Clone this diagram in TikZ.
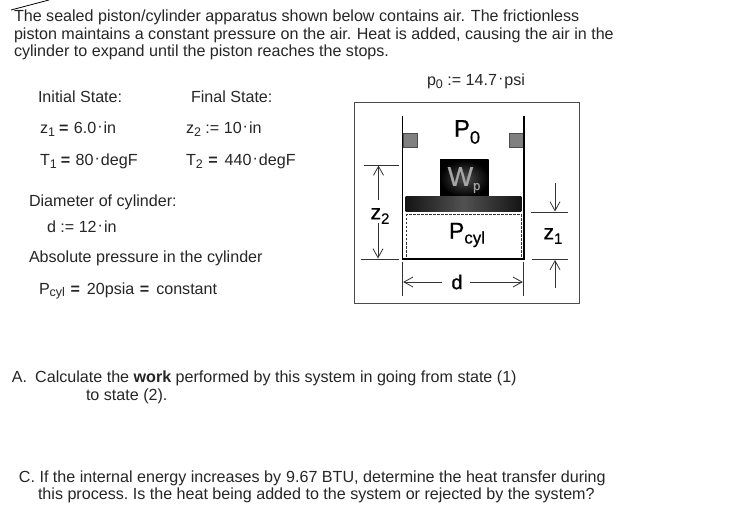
\documentclass[tikz,border=0pt]{standalone}
\usepackage{fontspec}
\setmainfont{Liberation Sans}
\newfontfamily\heavy[FakeBold=0.6]{Liberation Sans}
\usetikzlibrary{arrows.meta}
\tikzset{
  x=1pt,y=-1pt,
  txt/.style={anchor=base west,inner sep=0pt,outer sep=0pt,font=\fontsize{16.1}{19}\selectfont,text=black!85},
  lbl/.style={inner sep=0pt,outer sep=0pt,font=\heavy\fontsize{17}{20}\selectfont},
  big/.style={inner sep=0pt,outer sep=0pt,font=\heavy\fontsize{24}{28}\selectfont},
  wall/.style={draw=black,line width=1.5pt},
  thin/.style={draw=black!80,line width=0.6pt},
  dim/.style={draw=black!80,line width=0.8pt,-{Straight Barb[length=9pt,width=10pt,line width=0.8pt]}},
  stopbox/.style={draw=black!70,line width=0.6pt,fill=black!50},
}
\newcommand{\sbs}[1]{\raisebox{-0.3ex}{\fontsize{12.5}{14}\selectfont #1}}
\newcommand{\ld}{\raisebox{0.35ex}{\kern1pt\textperiodcentered\kern1pt}}
\newcommand{\eqq}{\kern4pt\textbf{=}\kern5.5pt}
\newcommand{\eqw}{\kern5.5pt\textbf{=}\kern7pt}
\begin{document}
\begin{tikzpicture}
\useasboundingbox (0,0) rectangle (737,524);
\fill[white] (0,0) rectangle (737,524);
% corner mark
\coordinate (m1) at (11,10); \coordinate (m2) at (49,0);
\draw[black,line width=0.8pt] (m1) -- (m2);
% text
\node[txt] (t1) at (14,22) {The sealed piston/cylinder apparatus shown below contains air. The frictionless};
\node[txt] (t2) at (14,39.5) {piston maintains a constant pressure on the air.\kern5.5pt Heat is added, causing the air in the};
\node[txt] (t3) at (14,57) {cylinder to expand until the piston reaches the stops.};
\node[txt] (p0) at (427,86) {p\sbs{0} := 14.7\ld psi};
\node[txt] (is) at (38,102.5) {Initial State:};
\node[txt] (fs) at (191,102.5) {Final State:};
\node[txt] (z1v) at (40,134) {z\sbs{1}\eqq 6.0\ld in};
\node[txt] (z2v) at (186,134) {z\sbs{2} := 10\ld in};
\node[txt] (T1v) at (40,166) {T\sbs{1}\eqq 80\ld degF};
\node[txt] (T2v) at (186,166) {T\sbs{2}\eqw 440\ld degF};
\node[txt] (dc) at (29,206.5) {Diameter of cylinder:};
\node[txt] (dv) at (47,233) {d := 12\ld in};
\node[txt] (ap) at (29,262.5) {Absolute pressure in the cylinder};
\node[txt] (pc) at (39,294) {P\sbs{cyl}\eqw 20psia\eqw constant};
\node[txt] (A1) at (12,382) {A.\kern8pt Calculate the \textbf{work} performed by this system in going from state (1)};
\node[txt] (A2) at (86,400) {to state (2).};
\node[txt] (C1) at (19,482) {C.\ If the internal energy increases by\kern5pt 9.67 BTU, determine the heat transfer during};
\node[txt] (C2) at (38,499) {this process.\ Is the heat being added to the system or rejected by the system?};
% frame
\draw[draw=black!70,line width=0.9pt] (354,102) rectangle (579,303);
% stops
\draw[stopbox] (403.5,133) rectangle (417,147);
\draw[stopbox] (509.5,133) rectangle (523,147);
% piston and weight
\shade[inner color=black!70,outer color=black] (440,160) rectangle (488.7,197);
\shade[left color=black!92,right color=black!92,middle color=black!68] (405.7,197) rectangle (521.3,212);
% gas boundary
\draw[black!80,line width=0.6pt,dash pattern=on 2.5pt off 1.5pt] (406.7,214) rectangle (521.3,258);
% cylinder
\coordinate (cTL) at (402.7,116); \coordinate (cBL) at (402.7,259);
\coordinate (cBR) at (524,259); \coordinate (cTR) at (524,116);
\draw[wall] (cTL) -- (cBL) -- (cBR) -- (cTR);
% labels
\node[big] (P0) at (467,132) {P\raisebox{-0.55ex}{\fontsize{18}{20}\selectfont 0}};
\node[big,text=black!35,font=\heavy\fontsize{27}{30}\selectfont] (Wp) at (464,180) {W\raisebox{-0.3ex}{\fontsize{13}{14}\selectfont p}};
\node[lbl,font=\heavy\fontsize{23}{26}\selectfont] (Pc) at (467,235) {P\raisebox{-0.4ex}{\fontsize{17}{20}\selectfont cyl}};
\node[lbl,font=\heavy\fontsize{21}{24}\selectfont] (z2) at (380,216) {z\raisebox{-0.4ex}{\fontsize{15}{16}\selectfont 2}};
\node[lbl,font=\heavy\fontsize{21}{24}\selectfont] (z1) at (553,236) {z\raisebox{-0.4ex}{\fontsize{15}{16}\selectfont 1}};
\node[lbl,font=\heavy\fontsize{20}{22}\selectfont] (d) at (457,282) {d};
% dimension lines
\coordinate (a1) at (364,165); \coordinate (a2) at (399,165);
\coordinate (b1) at (361,259); \coordinate (b2) at (399,259);
\draw[thin] (a1) -- (a2); \draw[thin] (b1) -- (b2);
\coordinate (a3) at (378.5,200); \coordinate (a4) at (378.5,165.5);
\coordinate (b3) at (378,223); \coordinate (b4) at (378,258.5);
\draw[dim] (a3) -- (a4); \draw[dim] (b3) -- (b4);
\coordinate (c1) at (531,212); \coordinate (c2) at (568,212);
\coordinate (e1) at (532,259.5); \coordinate (e2) at (568,259.5);
\draw[thin] (c1) -- (c2); \draw[thin] (e1) -- (e2);
\coordinate (c3) at (555,183); \coordinate (c4) at (555,211.5);
\coordinate (e3) at (555,288); \coordinate (e4) at (555,260);
\draw[dim] (c3) -- (c4); \draw[dim] (e3) -- (e4);
\coordinate (f1) at (402.7,262); \coordinate (f2) at (402.7,296);
\coordinate (g1) at (523.3,262); \coordinate (g2) at (523.3,296);
\draw[thin] (f1) -- (f2); \draw[thin] (g1) -- (g2);
\coordinate (f3) at (441.5,282); \coordinate (f4) at (403.2,282);
\coordinate (g3) at (470,282); \coordinate (g4) at (522.8,282);
\draw[dim] (f3) -- (f4); \draw[dim] (g3) -- (g4);
\end{tikzpicture}
\end{document}
